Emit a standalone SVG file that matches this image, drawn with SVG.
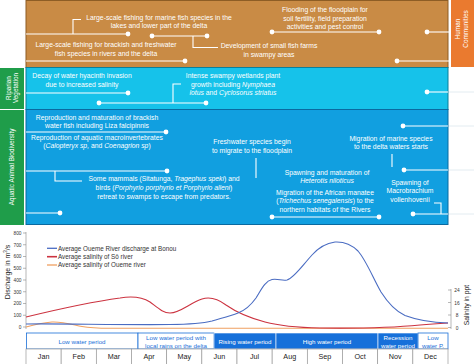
<svg xmlns="http://www.w3.org/2000/svg" width="474" height="364" viewBox="0 0 474 364">
<defs>
<style>
text{font-family:"Liberation Sans",Arial,sans-serif;}
.w{fill:#fff;font-size:6.8px;text-anchor:middle;}
.i{font-style:italic;}
.lab{fill:#fff;font-size:6.4px;text-anchor:middle;}
.cn{fill:none;stroke:#fff;stroke-width:1.1;}
.fx{fill:none;stroke:#e3ecf1;stroke-width:1;}
.dot{fill:#fff;}
.tk{fill:#333;font-size:4.8px;}
.ax{fill:none;stroke:#888;stroke-width:0.6;}
.lg{fill:#333;font-size:6.3px;}
.pw{fill:#fff;stroke:#1a6fd8;stroke-width:0.8;}
.pb{fill:#1670da;stroke:#fff;stroke-width:0.6;}
.pt{fill:#1a6fd8;font-size:6.2px;text-anchor:middle;}
.ptw{fill:#fff;font-size:6.2px;text-anchor:middle;}
.mc{fill:#fff;stroke:#9a9a9a;stroke-width:0.7;}
.mt{fill:#222;font-size:7.2px;text-anchor:middle;}
</style>
</defs>
<rect width="474" height="364" fill="#fff"/>

<!-- panels -->
<g id="panel-human">
<rect x="26" y="0.5" width="422" height="67" fill="#c98b45" stroke="#8d5d25" stroke-width="1"/>
</g>
<g id="panel-riparian">
<rect x="26" y="67.5" width="422" height="42" fill="#16c2ea" stroke="#0b7f99" stroke-width="1"/>
</g>
<g id="panel-aquatic">
<rect x="26" y="109.5" width="422" height="115" fill="#119fe0" stroke="#0a6aa0" stroke-width="1"/>
</g>

<g id="label-human">
<rect x="451" y="0" width="23" height="67" fill="#ea7a2f"/>
<text class="lab" transform="translate(459.5,29) rotate(-90)">Human</text>
<text class="lab" transform="translate(467.5,29) rotate(-90)">Communities</text>
</g>
<g id="label-riparian">
<rect x="0" y="68" width="24" height="41" fill="#1f9d4a"/>
<text class="lab" transform="translate(10.5,88) rotate(-90)">Riparian</text>
<text class="lab" transform="translate(17.5,88) rotate(-90)">Vegetation</text>
</g>
<g id="label-aquatic">
<rect x="0" y="110" width="24" height="115" fill="#1f9d4a"/>
<text class="lab" transform="translate(14,167) rotate(-90)">Aquatic Animal Biodiversity</text>
</g>

<!-- connectors -->
<g id="connectors">
<path class="cn" d="M26,34 H128 M73,34 V19.5 H81"/>
<path class="cn" d="M152,36 H207 M193,36 V47.5 H218"/>
<path class="cn" d="M26,61 H185"/>
<path class="cn" d="M272,32 H379"/>
<path class="cn" d="M427,32 H451"/>
<path class="cn" d="M397,61 H451"/>
<path class="cn" d="M26,93 H128"/>
<path class="cn" d="M99,103 H206 M173,103 V84 H181"/>
<path class="cn" d="M427,92 H448"/><path class="fx" d="M449,92 H474"/>
<path class="cn" d="M26,132 H166"/>
<path class="cn" d="M26,171 H167 M55,171 V181 H82"/>
<path class="cn" d="M26,213 H60"/>
<path class="cn" d="M256,158 V178"/>
<path class="cn" d="M403,126 H448"/><path class="fx" d="M449,126 H474"/>
<path class="cn" d="M392,154 V167"/>
<path class="cn" d="M404,170 H448"/><path class="fx" d="M449,170 H474"/>
<path class="cn" d="M272,217 H379"/>
<path class="cn" d="M413,214 H448 M434,203 H441 V214"/><path class="fx" d="M449,214 H474"/>
<g class="dot">
<circle cx="128" cy="34" r="2.4"/><circle cx="152" cy="36" r="2.4"/><circle cx="207" cy="36" r="2.4"/>
<circle cx="185" cy="61" r="2.4"/><circle cx="272" cy="32" r="2.4"/><circle cx="379" cy="32" r="2.4"/>
<circle cx="427" cy="32" r="2.4"/><circle cx="397" cy="61" r="2.4"/>
<circle cx="128" cy="93" r="2.4"/><circle cx="99" cy="103" r="2.4"/><circle cx="206" cy="103" r="2.4"/>
<circle cx="427" cy="92" r="2.4"/>
<circle cx="166" cy="132" r="2.4"/><circle cx="167" cy="171" r="2.4"/><circle cx="60" cy="213" r="2.4"/>
<circle cx="403" cy="126" r="2.4"/><circle cx="404" cy="170" r="2.4"/>
<circle cx="272" cy="217" r="2.4"/><circle cx="379" cy="217" r="2.4"/><circle cx="413" cy="214" r="2.4"/>
</g>
</g>

<!-- human texts -->
<g id="h1"><text class="w" x="159" y="19.6">Large-scale fishing for marine fish species in the</text><text class="w" x="159" y="28">lakes and lower part of the delta</text></g>
<g id="h2"><text class="w" x="106" y="47.3">Large-scale fishing for brackish and freshwater</text><text class="w" x="106" y="56.3">fish species in rivers and the delta</text></g>
<g id="h3"><text class="w" x="325" y="12.3">Flooding of the floodplain for</text><text class="w" x="325" y="20.6">soil fertility, field preparation</text><text class="w" x="325" y="29">activities and pest control</text></g>
<g id="h4"><text class="w" x="269" y="48.3">Development of small fish farms</text><text class="w" x="269" y="56.6">in swampy areas</text></g>

<!-- riparian texts -->
<g id="r1"><text class="w" x="82" y="78.3">Decay of water hyacinth invasion</text><text class="w" x="82" y="86.5">due to increased salinity</text></g>
<g id="r2"><text class="w" x="233" y="78.3">Intense swampy wetlands plant</text><text class="w" x="233" y="86.5">growth including <tspan class="i">Nymphaea</tspan></text><text class="w" x="233" y="95"><tspan class="i">lotus</tspan> and <tspan class="i">Cyclosorus striatus</tspan></text></g>

<!-- aquatic texts -->
<g id="a1"><text class="w" x="97" y="119.5">Reproduction and maturation of brackish</text><text class="w" x="97" y="128">water fish including Liza falcipinnis</text></g>
<g id="a2"><text class="w" x="97" y="139.6">Reproduction of aquatic macroinvertebrates</text><text class="w" x="97" y="147.5">(<tspan class="i">Calopteryx sp,</tspan> and <tspan class="i">Coenagrion sp</tspan>)</text></g>
<g id="a3"><text class="w" x="164" y="181.3">Some mammals (Sitatunga, <tspan class="i">Tragephus speki</tspan>) and</text><text class="w" x="164" y="190">birds (<tspan class="i">Porphyrio porphyrio et Porphyrio alleni</tspan>)</text><text class="w" x="164" y="198.5">retreat to swamps to escape from predators.</text></g>
<g id="a4"><text class="w" x="252" y="144.3">Freshwater species begin</text><text class="w" x="252" y="152.5">to migrate to the floodplain</text></g>
<g id="a5"><text class="w" x="391" y="140.6">Migration of marine species</text><text class="w" x="391" y="149">to the delta waters starts</text></g>
<g id="a6"><text class="w" x="327" y="174.6">Spawning and maturation of</text><text class="w i" x="327" y="183.3">Heterotis niloticus</text></g>
<g id="a7"><text class="w" x="325" y="194.6">Migration of the African manatee</text><text class="w" x="325" y="203.3">(<tspan class="i">Trichechus senegalensis</tspan>) to the</text><text class="w" x="325" y="211.5">northern habitats of the Rivers</text></g>
<g id="a8"><text class="w" x="410" y="184.6">Spawning of</text><text class="w" x="410" y="193.3">Macrobrachium</text><text class="w" x="410" y="201.5">vollenhovenii</text></g>

<!-- chart -->
<g id="chart">
<path class="ax" d="M26,232 V329 M23,233 H26 M23,244.75 H26 M23,256.5 H26 M23,268.25 H26 M23,280 H26 M23,291.75 H26 M23,303.5 H26 M23,315.25 H26 M23,327 H26"/>
<g class="tk" text-anchor="end">
<text x="21.5" y="234.8">800</text><text x="21.5" y="246.5">700</text><text x="21.5" y="258.3">600</text>
<text x="21.5" y="270">500</text><text x="21.5" y="281.8">400</text><text x="21.5" y="293.5">300</text>
<text x="21.5" y="305.3">200</text><text x="21.5" y="317">100</text><text x="21.5" y="328.8">0</text>
</g>
<text fill="#222" font-size="7" text-anchor="middle" transform="translate(9.5,272) rotate(-90)">Discharge in m<tspan font-size="4.5" dy="-2.5">3</tspan><tspan dy="2.5">/s</tspan></text>
<path class="ax" d="M451,289 V329 M448,290 H451 M448,302.5 H451 M448,315 H451 M448,327.5 H451"/>
<g class="tk" text-anchor="middle">
<text x="457" y="291.5">24</text><text x="457" y="304.5">16</text><text x="457" y="317">8</text><text x="457" y="329.5">0</text>
</g>
<text fill="#222" font-size="6.8" text-anchor="middle" transform="translate(469,305) rotate(-90)">Salinity in ppt</text>

<path d="M26,327 C33,325 40,323 52,322 C62,321.5 70,324 82,326.5 C90,328 96,328.3 110,328.3 L448,328.2" fill="none" stroke="#f0a060" stroke-width="1.1"/>
<path d="M26,317 C55,310 90,302 120,298 C132,296 142,297 150,302 C158,308 163,313 170,313 C180,313 190,303 202,299 C210,296.5 218,299 226,305 C236,312 250,318 265,322 C280,326 295,327.5 320,328 C360,328.5 400,327 420,325 C432,324 440,323.5 448,323" fill="none" stroke="#cc3340" stroke-width="1.1"/>
<path d="M26,324 C60,323.5 120,325 170,324.5 C190,324.3 202,323.5 212,321 C222,318 230,316 238,313 C246,310 251,305 256,298 C261,290 265,281 272,279.5 C278,278.5 282,281 287,280 C294,278 302,266 312,255 C320,246 327,243 335,242 C344,241.5 352,245 358,251 C366,260 373,278 381,292 C388,303 395,311 405,315.5 C417,320 430,322.5 448,323" fill="none" stroke="#4a6cc2" stroke-width="1.1"/>

<path d="M47,248.3 H57" stroke="#4a6cc2" stroke-width="1.3"/>
<path d="M47,256.7 H57" stroke="#cc3340" stroke-width="1.6"/>
<path d="M47,265 H57" stroke="#f0a060" stroke-width="1.3"/>
<text class="lg" x="58" y="250.5">Average Oueme River discharge at Bonou</text>
<text class="lg" x="58" y="258.9">Average salinity of Sô river</text>
<text class="lg" x="58" y="267.2">Average salinity of Oueme river</text>
</g>

<!-- periods -->
<g id="periods">
<rect class="pw" x="26.4" y="333" width="111.6" height="16"/>
<text class="pt" x="82" y="343.8">Low water period</text>
<rect class="pw" x="138" y="333" width="76" height="16"/>
<text class="pt" x="176" y="340.3">Low water period with</text>
<text class="pt" x="176" y="347.7">local rains on the delta</text>
<rect class="pb" x="214" y="333" width="62" height="16"/>
<text class="ptw" x="245" y="343.8">Rising water period</text>
<rect class="pb" x="276" y="333" width="102" height="16"/>
<text class="ptw" x="327" y="343.8">High water period</text>
<rect class="pb" x="378" y="333" width="40" height="16"/>
<text class="ptw" x="398" y="340.3">Recession</text>
<text class="ptw" x="398" y="347.7">water period</text>
<rect class="pw" x="418" y="333" width="30" height="16"/>
<text class="pt" x="433" y="340.3">Low</text>
<text class="pt" x="433" y="347.7">water P.</text>
</g>

<!-- months -->
<g id="months">
<rect class="mc" x="26" y="349" width="35.17" height="16"/><text class="mt" x="43.6" y="358.5">Jan</text>
<rect class="mc" x="61.17" y="349" width="35.17" height="16"/><text class="mt" x="78.75" y="358.5">Feb</text>
<rect class="mc" x="96.33" y="349" width="35.17" height="16"/><text class="mt" x="113.9" y="358.5">Mar</text>
<rect class="mc" x="131.5" y="349" width="35.17" height="16"/><text class="mt" x="149.1" y="358.5">Apr</text>
<rect class="mc" x="166.67" y="349" width="35.17" height="16"/><text class="mt" x="184.25" y="358.5">May</text>
<rect class="mc" x="201.83" y="349" width="35.17" height="16"/><text class="mt" x="219.4" y="358.5">Jun</text>
<rect class="mc" x="237" y="349" width="35.17" height="16"/><text class="mt" x="254.6" y="358.5">Jul</text>
<rect class="mc" x="272.17" y="349" width="35.17" height="16"/><text class="mt" x="289.75" y="358.5">Aug</text>
<rect class="mc" x="307.33" y="349" width="35.17" height="16"/><text class="mt" x="324.9" y="358.5">Sep</text>
<rect class="mc" x="342.5" y="349" width="35.17" height="16"/><text class="mt" x="360.1" y="358.5">Oct</text>
<rect class="mc" x="377.67" y="349" width="35.17" height="16"/><text class="mt" x="395.25" y="358.5">Nov</text>
<rect class="mc" x="412.83" y="349" width="35.17" height="16"/><text class="mt" x="430.4" y="358.5">Dec</text>
</g>
</svg>
